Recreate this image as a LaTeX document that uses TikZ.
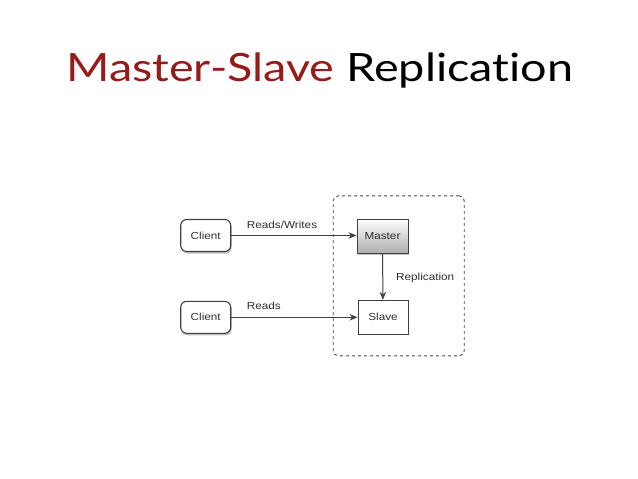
\documentclass[tikz,border=0pt]{standalone}
\usepackage{fontspec}
\setmainfont{Liberation Sans}
\newfontfamily\titlefont[RawFeature={-liga;-dlig}]{Lato}
\usetikzlibrary{arrows.meta,shadows}
\definecolor{titlered}{HTML}{981B1B}
\newcommand{\wide}[1]{\scalebox{1.15}[1]{#1}}
\begin{document}
\begin{tikzpicture}[x=1pt,y=-1pt,
  txt/.style={font=\fontsize{10.2}{12}\selectfont, text=black!82},
  lbl/.style={txt, inner sep=0pt},
  clientbox/.style={txt, draw=black!75, line width=1.1pt, rounded corners=6pt, fill=white,
    minimum width=50pt, minimum height=32pt,
    drop shadow={shadow xshift=1pt, shadow yshift=-2pt, opacity=0.5}},
  masterbox/.style={txt, draw=black!75, line width=0.9pt, top color=white, bottom color=black!32,
    minimum width=51pt, minimum height=34pt,
    drop shadow={shadow xshift=1pt, shadow yshift=-2pt, opacity=0.5}},
  slavebox/.style={txt, draw=black!75, line width=0.9pt, fill=white,
    minimum width=50pt, minimum height=34pt},
  conn/.style={draw=black!75, line width=1pt, -{Stealth[length=8pt,width=6.5pt,inset=2.5pt]}}
]
\useasboundingbox (0,0) rectangle (638,479);
\fill[white] (0,0) rectangle (638,479);
\node[anchor=base west, inner sep=0pt, font=\titlefont\fontsize{39}{42}\selectfont] (title) at (66,81.5)
  {\scalebox{1.2}[1]{\textcolor{titlered}{Master-Slave} Replication}};
\node[draw=black!70, dashed, line width=0.9pt, rounded corners=5pt, minimum width=131pt, minimum height=160pt] (group) at (398.7,275.8) {};
\node[clientbox] (c1) at (205.7,235.5) {\wide{Client}};
\node[clientbox] (c2) at (205.7,317.3) {\wide{Client}};
\node[masterbox] (master) at (382.5,236.3) {\wide{Master}};
\node[slavebox] (slave) at (383,317.3) {\wide{Slave}};
\draw[conn] (c1.east) -- (master.west |- c1.east);
\node[lbl, anchor=base west] (l1) at ([xshift=15.5pt,yshift=7pt]c1.east) {\wide{Reads/Writes}};
\draw[conn] (c2.east) -- (slave.west |- c2.east);
\node[lbl, anchor=base west] (l2) at ([xshift=15.5pt,yshift=8pt]c2.east) {\wide{Reads}};
\draw[conn] (master) -- (slave);
\node[lbl, anchor=base west] (l3) at ([xshift=13pt,yshift=19.5pt]slave.north) {\wide{Replication}};
\end{tikzpicture}
\end{document}
